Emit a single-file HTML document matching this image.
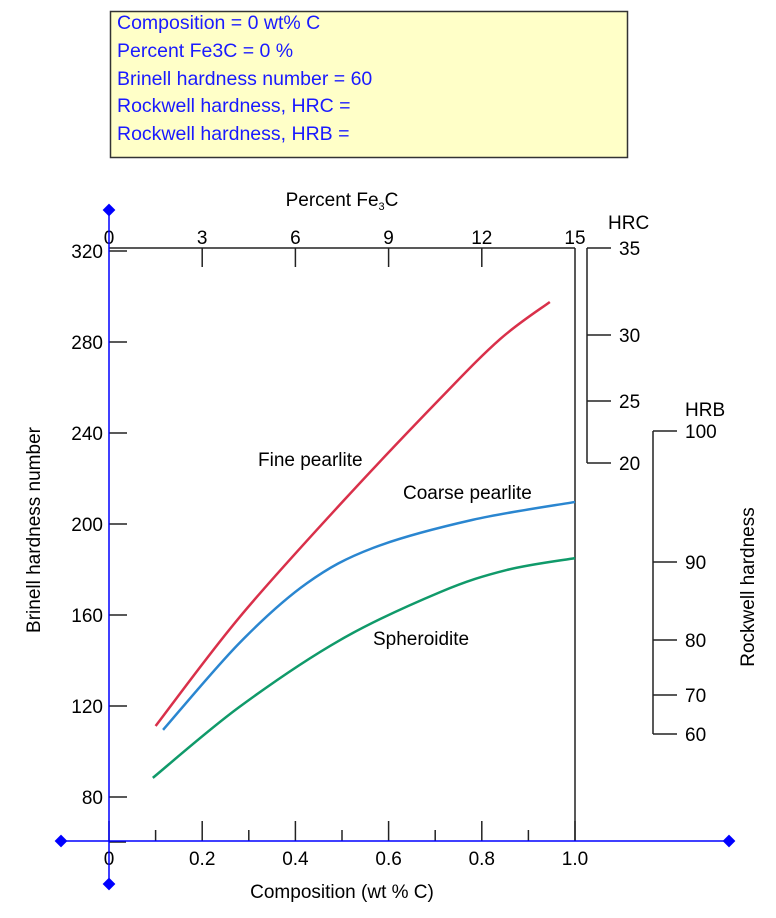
<!DOCTYPE html>
<html><head><meta charset="utf-8"><style>
body{margin:0;background:#fff;width:776px;height:918px;overflow:hidden}
svg{display:block;font-family:"Liberation Sans",Arial,sans-serif}
</style></head><body>
<svg id="chart" width="776" height="918" xmlns="http://www.w3.org/2000/svg">
<g>
<rect x="110.5" y="11.5" width="517" height="146" fill="#ffffc8" stroke="#333" stroke-width="1.5"/>
<g fill="#1a1aff" font-size="19.5">
<text x="117" y="29">Composition = 0 wt% C</text>
<text x="117" y="57">Percent Fe3C = 0 %</text>
<text x="117" y="85">Brinell hardness number = 60</text>
<text x="117" y="112">Rockwell hardness, HRC =</text>
<text x="117" y="140">Rockwell hardness, HRB =</text>
</g></g>
<g id="axes"></g>
<g id="series"></g>
</svg>
<script>
const xTicks=[0,0.2,0.4,0.6,0.8,1.0];
const xTickLabels=["0","0.2","0.4","0.6","0.8","1.0"];
const xMinor=[0.1,0.3,0.5,0.7,0.9];
const yTicks=[80,120,160,200,240,280,320];
const fe3cTicks=[0,3,6,9,12,15];
const hrcTicks=[35,30,25,20];
const hrcPix=[248,335,401,463];
const hrbTicks=[100,90,80,70,60];
const hrbPix=[431,562,640,695,734];
const fineX=[0.10,0.28,0.50,0.71,0.84,0.946];
const fineY=[111.2,159,209.5,255,281.4,297.6];
const coarseX=[0.116,0.28,0.425,0.567,0.78,1.0];
const coarseY=[109.5,147.7,174,189.5,201.8,209.7];
const sphX=[0.094,0.28,0.496,0.71,0.854,1.0];
const sphY=[88.4,119.6,149,170,179.8,185];

const NS="http://www.w3.org/2000/svg";
const FS=19;
const X=v=>109+v*466;
const Y=v=>797-(v-80)*2.275;
const FX=v=>109+v/15*466;
function mk(tag,attrs,parent,text){const e=document.createElementNS(NS,tag);for(const k in attrs)e.setAttribute(k,attrs[k]);if(text!==undefined)e.textContent=text;parent.appendChild(e);return e;}
const ax=document.getElementById('axes');
let e;
e=mk('line',{x1:109,y1:248,x2:575,y2:248,stroke:'#222','stroke-width':1.5},ax);

e=mk('line',{x1:575,y1:248,x2:575,y2:841,stroke:'#222','stroke-width':1.5},ax);

yTicks.forEach(v=>{
 e=mk('line',{x1:109,y1:Y(v),x2:127,y2:Y(v),stroke:'#222','stroke-width':1.5},ax);
 
 e=mk('text',{x:103,y:Y(v)+7,'text-anchor':'end','font-size':FS},ax,String(v));
 
});
e=mk('line',{x1:109,y1:842,x2:126,y2:842,stroke:'#222','stroke-width':1.5},ax);

xTicks.forEach((v,i)=>{
 e=mk('line',{x1:X(v),y1:821,x2:X(v),y2:841,stroke:'#222','stroke-width':1.5},ax);
 
 e=mk('text',{x:X(v),y:865,'text-anchor':'middle','font-size':FS},ax,xTickLabels[i]);
 
});
xMinor.forEach(v=>{
 e=mk('line',{x1:X(v),y1:830,x2:X(v),y2:841,stroke:'#222','stroke-width':1.5},ax);
 
});
fe3cTicks.forEach(v=>{
 if(v>0&&v<15){e=mk('line',{x1:FX(v),y1:248,x2:FX(v),y2:267,stroke:'#222','stroke-width':1.5},ax);
 }
 e=mk('text',{x:FX(v),y:244,'text-anchor':'middle','font-size':FS},ax,String(v));
 
});
e=mk('text',{x:342,y:206,'text-anchor':'middle','font-size':FS},ax,'Percent Fe');

mk('tspan',{'font-size':11,dy:4},e,'3');mk('tspan',{dy:-4},e,'C');
e=mk('line',{x1:587,y1:248,x2:587,y2:463,stroke:'#222','stroke-width':1.5},ax);

hrcTicks.forEach((v,i)=>{
 e=mk('line',{x1:587,y1:hrcPix[i],x2:611,y2:hrcPix[i],stroke:'#222','stroke-width':1.5},ax);
 
 e=mk('text',{x:619,y:hrcPix[i]+7,'font-size':FS},ax,String(v));
 
});
e=mk('text',{x:608,y:229,'font-size':FS},ax,'HRC');

e=mk('line',{x1:653,y1:431,x2:653,y2:734,stroke:'#222','stroke-width':1.5},ax);

hrbTicks.forEach((v,i)=>{
 e=mk('line',{x1:653,y1:hrbPix[i],x2:677,y2:hrbPix[i],stroke:'#222','stroke-width':1.5},ax);
 
 e=mk('text',{x:685,y:hrbPix[i]+7,'font-size':FS},ax,String(v));
 
});
e=mk('text',{x:685,y:416,'font-size':FS},ax,'HRB');

e=mk('text',{x:0,y:0,'font-size':FS,'text-anchor':'middle',transform:'translate(754,587) rotate(-90)'},ax,'Rockwell hardness');

e=mk('text',{x:0,y:0,'font-size':FS,'text-anchor':'middle',transform:'translate(40,530) rotate(-90)'},ax,'Brinell hardness number');

e=mk('text',{x:342,y:898,'font-size':FS,'text-anchor':'middle'},ax,'Composition (wt % C)');

e=mk('line',{x1:109,y1:210,x2:109,y2:884,stroke:'#0000ff','stroke-width':1.5},ax);

e=mk('line',{x1:61,y1:841,x2:729,y2:841,stroke:'#0000ff','stroke-width':1.5},ax);

[[109,210],[109,884],[61,841],[729,841]].forEach(p=>{
 e=mk('rect',{x:p[0]-4.5,y:p[1]-4.5,width:9,height:9,fill:'#0000ff',transform:`rotate(45 ${p[0]} ${p[1]})`},ax);
 
});
const sg=document.getElementById('series');
function path(xs,ys){
 const p=xs.map((x,i)=>[X(x),Y(ys[i])]);
 let d=`M${p[0][0]},${p[0][1]}`;
 for(let i=0;i<p.length-1;i++){
  const p0=p[Math.max(0,i-1)],p1=p[i],p2=p[i+1],p3=p[Math.min(p.length-1,i+2)];
  const c1=[p1[0]+(p2[0]-p0[0])/6,p1[1]+(p2[1]-p0[1])/6];
  const c2=[p2[0]-(p3[0]-p1[0])/6,p2[1]-(p3[1]-p1[1])/6];
  d+=` C${c1[0]},${c1[1]} ${c2[0]},${c2[1]} ${p2[0]},${p2[1]}`;
 }
 return d;
}
e=mk('path',{d:path(fineX,fineY),fill:'none',stroke:'#d9304a','stroke-width':2.5},sg);

e=mk('path',{d:path(coarseX,coarseY),fill:'none',stroke:'#2a86d0','stroke-width':2.5},sg);

e=mk('path',{d:path(sphX,sphY),fill:'none',stroke:'#109a6a','stroke-width':2.5},sg);

e=mk('text',{x:258,y:466,'font-size':FS},sg,'Fine pearlite');

e=mk('text',{x:403,y:499,'font-size':FS},sg,'Coarse pearlite');

e=mk('text',{x:373,y:645,'font-size':FS},sg,'Spheroidite');

</script>
</body></html>
